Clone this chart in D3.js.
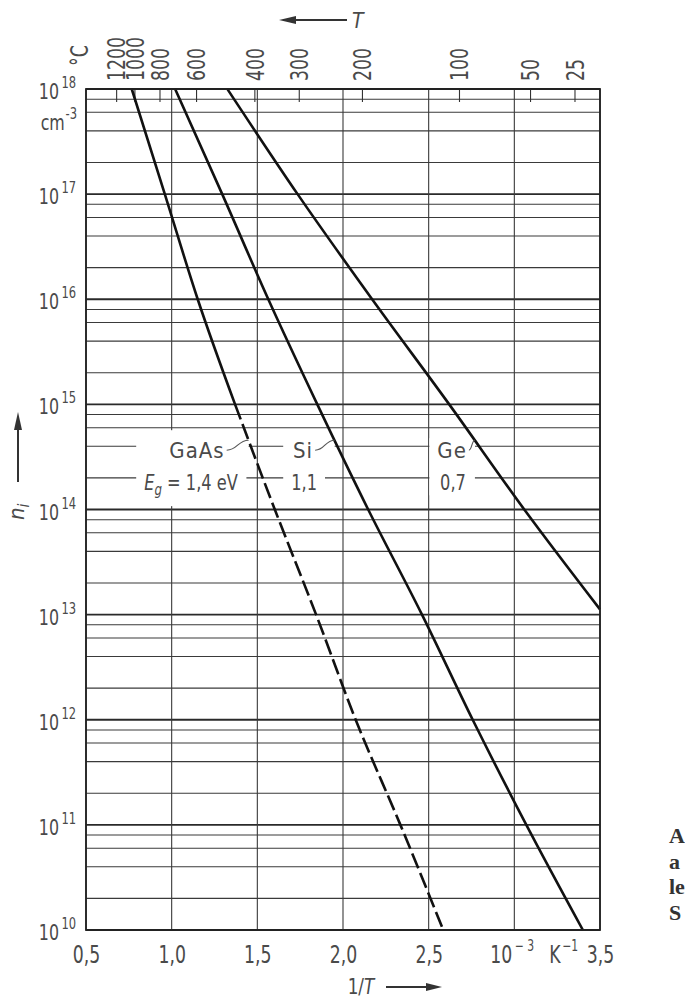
<!DOCTYPE html>
<html>
<head>
<meta charset="utf-8">
<script src="https://cdn.jsdelivr.net/npm/d3@7"></script>
<style>
body { margin: 0; background: #fff; }
svg { display: block; }
</style>
</head>
<body>
<svg id="chart"></svg>
<script>
// values: 1/T in 10^-3 K^-1 where n_i crosses each decade
var decades = [18, 17, 16, 15, 14, 13, 12, 11, 10];
var gaasInvT = [0.767, 0.96, 1.152, 1.37, 1.602, 1.843, 2.074, 2.335, 2.585];
var siInvT = [1.02, 1.295, 1.564, 1.85, 2.147, 2.461, 2.757, 3.07, 3.40];
var geLogN = [18, 17, 16, 15, 14, 13.05];
var geInvT = [1.325, 1.735, 2.17, 2.62, 3.058, 3.5];

var materials = ["GaAs", "Si", "Ge"];
var gapLabels = ["1,4", "1,1", "0,7"];

var tempC = [1200, 1000, 800, 600, 400, 300, 200, 100, 50, 25];
var invTTicks = [0.5, 1.0, 1.5, 2.0, 2.5, 3.5];

var W = 685, H = 1008;
var FONT = "'DejaVu Sans Condensed', 'DejaVu Sans', sans-serif";
var TXT = "#4a4a4a";
var SX = 0.8; // squeeze for the narrow axis numerals

var svg = d3.select("#chart")
  .attr("width", W)
  .attr("height", H);

var x = d3.scaleLinear().domain([0.5, 3.5]).range([86, 600]);
var y = d3.scaleLog().domain([1e10, 1e18]).range([930, 89]);

function toPts(invT, logN) {
  return invT.map(function(v, i) { return [v, Math.pow(10, logN[i])]; });
}

// interpolate 1/T on a curve for a given n
function invTAt(invT, logN, n) {
  var ln = Math.log10(n);
  for (var i = 0; i < logN.length - 1; i++) {
    if (ln <= logN[i] && ln >= logN[i + 1]) {
      var f = (logN[i] - ln) / (logN[i] - logN[i + 1]);
      return invT[i] + f * (invT[i + 1] - invT[i]);
    }
  }
  return invT[0];
}

function place(tx, ty, extra, sx) {
  return "translate(" + tx + "," + ty + ")" + (extra || "") + " scale(" + (sx || SX) + ",1)";
}

function box(node) {
  return node.getBoundingClientRect();
}

// grid
var grid = svg.append("g");

var hLines = y.ticks().filter(function(d) {
  var m = Math.round(d / Math.pow(10, Math.floor(Math.log10(d) + 1e-9)));
  return m == 2 || m == 4 || m == 6 || m == 8;
});

grid.selectAll(".hminor")
  .data(hLines)
  .enter().append("line")
  .attr("x1", x(0.5)).attr("x2", x(3.5))
  .attr("y1", function(d) { return y(d); })
  .attr("y2", function(d) { return y(d); })
  .attr("stroke", "#3a3a3a")
  .attr("stroke-width", 1.1);

grid.selectAll(".hmajor")
  .data(decades)
  .enter().append("line")
  .attr("x1", x(0.5)).attr("x2", x(3.5))
  .attr("y1", function(d) { return y(Math.pow(10, d)); })
  .attr("y2", function(d) { return y(Math.pow(10, d)); })
  .attr("stroke", "#2a2a2a")
  .attr("stroke-width", 1.8);

grid.selectAll(".vline")
  .data(d3.range(0.5, 3.51, 0.5))
  .enter().append("line")
  .attr("x1", function(d) { return x(d); })
  .attr("x2", function(d) { return x(d); })
  .attr("y1", y(1e18)).attr("y2", y(1e10))
  .attr("stroke", "#3a3a3a")
  .attr("stroke-width", 1.1);

// temperature ticks along the top
grid.selectAll(".ttick")
  .data(tempC)
  .enter().append("line")
  .attr("x1", function(d) { return x(1000 / (d + 273.15)); })
  .attr("x2", function(d) { return x(1000 / (d + 273.15)); })
  .attr("y1", y(1e18)).attr("y2", y(1e18) + 13)
  .attr("stroke", "#333")
  .attr("stroke-width", 1.1);

// labels inside the grid (text blocks get a white backing)
var rowTop = 4e14, rowBot = 2e14;
var topCenters = [1.148, 1.767, 2.637];
var botCenters = [1.113, 1.773, 2.642];

var backs = svg.append("g");
var curves = svg.append("g");
var labels = svg.append("g");

var topTexts = labels.selectAll(".mat")
  .data(materials)
  .enter().append("text")
  .attr("transform", function(d, i) { return place(x(topCenters[i]), y(rowTop) + 12, "", 1); })
  .attr("text-anchor", "middle")
  .attr("font-family", FONT)
  .attr("font-size", 22)
  .attr("letter-spacing", 1)
  .attr("fill", TXT)
  .text(function(d) { return d; });

var botTexts = labels.selectAll(".gap")
  .data(gapLabels)
  .enter().append("text")
  .attr("transform", function(d, i) { return place(x(botCenters[i]), y(rowBot) + 12, "", 0.82); })
  .attr("text-anchor", "middle")
  .attr("font-family", FONT)
  .attr("font-size", 22)
  .attr("fill", TXT);

botTexts.each(function(d, i) {
  var t = d3.select(this);
  if (i == 0) {
    t.append("tspan").attr("font-style", "italic").text("E");
    t.append("tspan").attr("font-style", "italic").attr("font-size", 16).attr("dy", 5).text("g");
    t.append("tspan").attr("dy", -5).text(" = " + d + " eV");
  } else {
    t.text(d);
  }
});

// white backing behind each label column
var pad = 8;
materials.forEach(function(m, i) {
  var a = box(topTexts.nodes()[i]);
  var b = box(botTexts.nodes()[i]);
  var x0 = Math.min(a.left, b.left) - pad, x1 = Math.max(a.right, b.right) + pad;
  var y0 = i == 0 ? a.top - 8 : a.top, y1 = i == 0 ? b.bottom + 8 : b.bottom;
  backs.append("rect")
    .attr("x", x0).attr("y", y0)
    .attr("width", x1 - x0).attr("height", y1 - y0)
    .attr("fill", "#fff");
});

// curves
var line = d3.line()
  .x(function(d) { return x(d[0]); })
  .y(function(d) { return y(d[1]); })
  .curve(d3.curveMonotoneX);

var gaasPts = toPts(gaasInvT, decades);
var siPts = toPts(siInvT, decades);
var gePts = toPts(geInvT, geLogN);

curves.append("path")
  .datum(gaasPts.slice(0, 4))
  .attr("d", line)
  .attr("fill", "none")
  .attr("stroke", "#111")
  .attr("stroke-width", 2.6);

curves.append("path")
  .datum(gaasPts.slice(3))
  .attr("d", line)
  .attr("fill", "none")
  .attr("stroke", "#111")
  .attr("stroke-width", 2.6)
  .attr("stroke-dasharray", "16,5");

curves.append("path")
  .datum(siPts)
  .attr("d", line)
  .attr("fill", "none")
  .attr("stroke", "#111")
  .attr("stroke-width", 2.6);

curves.append("path")
  .datum(gePts)
  .attr("d", line)
  .attr("fill", "none")
  .attr("stroke", "#111")
  .attr("stroke-width", 2.6);

// leader lines from material names to their curves
var curveSets = [[gaasInvT, decades], [siInvT, decades], [geInvT, geLogN]];
materials.forEach(function(m, i) {
  var bb = box(topTexts.nodes()[i]);
  var ty = y(rowTop) - 6;
  var x0 = bb.right + 2, y0 = y(rowTop) + 4;
  var x1 = x(invTAt(curveSets[i][0], curveSets[i][1], y.invert(ty)));
  var mx = (x0 + x1) / 2;
  backs.append("rect")
    .attr("x", x0 - 2).attr("y", ty - 2)
    .attr("width", x1 - x0 + 2).attr("height", y0 - ty + 4)
    .attr("fill", "#fff");
  labels.append("path")
    .attr("d", "M" + x0 + "," + y0 + " C" + mx + "," + y0 + " " + mx + "," + ty + " " + x1 + "," + ty)
    .attr("fill", "none")
    .attr("stroke", "#555")
    .attr("stroke-width", 1.1);
});

// frame
svg.append("rect")
  .attr("x", x(0.5)).attr("y", y(1e18))
  .attr("width", x(3.5) - x(0.5))
  .attr("height", y(1e10) - y(1e18))
  .attr("fill", "none")
  .attr("stroke", "#222")
  .attr("stroke-width", 1.8);

// bottom axis
var xAxis = svg.append("g")
  .attr("transform", "translate(0," + y(1e10) + ")")
  .call(d3.axisBottom(x)
    .tickValues(invTTicks)
    .tickSize(0)
    .tickPadding(16)
    .tickFormat(function(d) { return d3.format(".1f")(d).replace(".", ","); }));
xAxis.select(".domain").remove();
xAxis.selectAll("text")
  .attr("font-family", FONT)
  .attr("font-size", 24)
  .attr("fill", TXT)
  .attr("transform", "scale(" + SX + ",1)");

var unit = svg.append("g")
  .attr("font-family", FONT)
  .attr("font-size", 24)
  .attr("fill", TXT);
var u1 = unit.append("text").attr("transform", place(x(3.0) - 24, 963));
u1.append("tspan").text("10");
u1.append("tspan").attr("font-size", 15).attr("dx", 3).attr("dy", -12).text("\u2212 3");
var u2 = unit.append("text").attr("transform", place(x(3.0) + 35, 963));
u2.append("tspan").text("K");
u2.append("tspan").attr("font-size", 15).attr("dx", 2).attr("dy", -12).text("\u22121");

// 1/T with arrow
var bl = svg.append("text")
  .attr("transform", place(361, 994, "", 0.85))
  .attr("text-anchor", "middle")
  .attr("font-family", FONT)
  .attr("font-size", 22)
  .attr("fill", TXT);
bl.append("tspan").text("1/");
bl.append("tspan").attr("font-style", "italic").text("T");
svg.append("line")
  .attr("x1", 386).attr("x2", 428).attr("y1", 987).attr("y2", 987)
  .attr("stroke", "#333").attr("stroke-width", 2);
svg.append("path")
  .attr("d", "M442,987 L426,983 L426,991 Z")
  .attr("fill", "#333");

// left axis: decades
var left = svg.append("g")
  .attr("font-family", FONT)
  .attr("fill", TXT);
decades.forEach(function(d) {
  var t = left.append("text")
    .attr("transform", place(76, y(Math.pow(10, d)) + 10))
    .attr("text-anchor", "end")
    .attr("font-size", 22);
  t.append("tspan").text("10");
  t.append("tspan").attr("font-size", 16).attr("dx", 3).attr("dy", -11).text(d);
});
var cm = left.append("text")
  .attr("transform", place(77, 130))
  .attr("text-anchor", "end")
  .attr("font-size", 22);
cm.append("tspan").text("cm");
cm.append("tspan").attr("font-size", 16).attr("dx", 1).attr("dy", -11).text("-3");

// n_i label and arrow
var ni = svg.append("text")
  .attr("transform", "translate(24,520) rotate(-90)")
  .attr("font-family", FONT)
  .attr("font-size", 22)
  .attr("fill", TXT);
ni.append("tspan").attr("font-style", "italic").text("n");
ni.append("tspan").attr("font-style", "italic").attr("font-size", 15).attr("dy", 5).text("i");
svg.append("line")
  .attr("x1", 18).attr("x2", 18).attr("y1", 482).attr("y2", 426)
  .attr("stroke", "#333").attr("stroke-width", 2);
svg.append("path")
  .attr("d", "M18,412 L14,430 L22,430 Z")
  .attr("fill", "#333");

// top axis: temperatures in deg C
var topAxis = svg.append("g")
  .attr("font-family", FONT)
  .attr("font-size", 24)
  .attr("fill", TXT);
topAxis.selectAll(".tlab")
  .data(tempC)
  .enter().append("text")
  .attr("transform", function(d) {
    return place(x(1000 / (d + 273.15)), 81, " rotate(-90)");
  })
  .attr("dy", "0.36em")
  .text(function(d) { return d; });
topAxis.append("text")
  .attr("transform", place(79, 66, " rotate(-90)"))
  .attr("dy", "0.36em")
  .text("\u00b0C");

// T arrow at the top
svg.append("line")
  .attr("x1", 347).attr("x2", 294).attr("y1", 20).attr("y2", 20)
  .attr("stroke", "#333").attr("stroke-width", 2);
svg.append("path")
  .attr("d", "M279,20 L296,16 L296,24 Z")
  .attr("fill", "#333");
svg.append("text")
  .attr("x", 352).attr("y", 28)
  .attr("font-family", FONT)
  .attr("font-size", 21)
  .attr("font-style", "italic")
  .attr("fill", TXT)
  .text("T");

// clipped caption text at the right edge
var caption = ["A", "a", "le", "S"];
svg.selectAll(".cap")
  .data(caption)
  .enter().append("text")
  .attr("x", 669)
  .attr("y", function(d, i) { return 843 + i * 25.5; })
  .attr("font-family", "'Liberation Serif', serif")
  .attr("font-size", 22)
  .attr("font-weight", "bold")
  .attr("fill", "#333")
  .text(function(d) { return d; });
</script>
</body>
</html>
